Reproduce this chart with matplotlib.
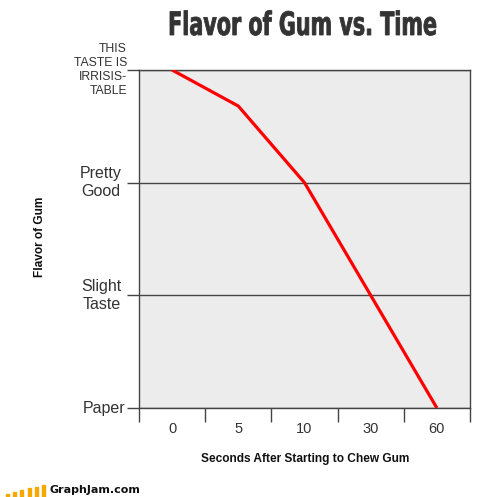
import numpy as np
import matplotlib
matplotlib.use('Agg')
import matplotlib.pyplot as plt
from matplotlib.patches import Rectangle, PathPatch
from matplotlib.textpath import TextPath
from matplotlib.font_manager import FontProperties
from matplotlib.transforms import Affine2D

plt.rcParams['font.family'] = ['Liberation Sans', 'DejaVu Sans']

# data
seconds = ['0', '5', '10', '30', '60']
flavor = [3.0, 2.68, 2.0, 1.0, 0.0]
flavor_levels = [0, 1, 2, 3]
flavor_labels = ['Paper', 'Slight\nTaste', 'Pretty\nGood', 'THIS\nTASTE IS\nIRRISIS-\nTABLE']
title = 'Flavor of Gum vs. Time'

W, H = 504, 497
fig = plt.figure(figsize=(W / 100, H / 100), dpi=100)
fig.patch.set_facecolor('white')

# axes box in pixel coords
x0, x1, y0, y1 = 139, 470, 70, 408
ax = fig.add_axes([x0 / W, 1 - y1 / H, (x1 - x0) / W, (y1 - y0) / H])
ax.set_facecolor('#ececec')

xs = np.arange(len(seconds))
ax.plot(xs, flavor, color='#ff0000', lw=2.3, solid_capstyle='butt', zorder=3)

ax.set_xlim(-0.5, len(seconds) - 0.5)
ax.set_ylim(0, 3)

# horizontal grid lines
for lv in flavor_levels:
    ax.axhline(lv, color='#444444', lw=1.0, zorder=2)

for s in ax.spines.values():
    s.set_color('#444444')
    s.set_linewidth(1.0)

# x ticks: marks at the boundaries, labels at centres
ax.set_xticks(np.arange(-0.5, len(seconds)), minor=False)
ax.set_xticklabels([])
ax.set_xticks(xs, minor=True)
ax.set_xticklabels(seconds, minor=True, fontsize=10.5, color='#333333')
ax.tick_params(axis='x', which='major', length=10, width=1.0, color='#444444', direction='out')
ax.tick_params(axis='x', which='minor', length=0, pad=10)

ax.set_yticks(flavor_levels)
ax.set_yticklabels([])
ax.tick_params(axis='y', length=9, width=1.0, color='#444444', direction='out')
# y labels drawn as text so sizes can differ
label_x = {0: -0.71, 1: -0.76, 2: -0.76, 3: -0.68}
for lv, lab in zip(flavor_levels, flavor_labels):
    if lv == 3:
        ax.text(label_x[lv], lv, lab, fontsize=8.8, color='#333333', ha='right', va='center',
                multialignment='right', linespacing=1.25)
    else:
        ax.text(label_x[lv], lv, lab, fontsize=11.5, color='#333333', ha='right', va='center',
                multialignment='center', linespacing=1.3)

fig.text(40 / W, 1 - 237 / H, 'Flavor of Gum', rotation=90, fontsize=8.6,
         fontweight='bold', color='#111111', ha='center', va='center')
fig.text(305 / W, 1 - 459 / H, 'Seconds After Starting to Chew Gum', fontsize=8.6,
         fontweight='bold', color='#111111', ha='center', va='center')

# condensed heavy title: squeeze a bold text path sideways
tp = TextPath((0, 0), title, size=33, prop=FontProperties(family='DejaVu Sans', weight='bold'))
ext = tp.get_extents()
sx = 266 / ext.width
sy = 24.5 / ext.y1
tr = (Affine2D().translate(-ext.x0, 0).scale(sx, sy)
      .translate(170, H - 35).scale(1 / W, 1 / H) + fig.transFigure)
fig.patches.append(PathPatch(tp, transform=tr, facecolor='#333333',
                             edgecolor='#333333', lw=0.6))

# GraphJam watermark
bar_h = [3, 5, 7, 9, 10, 12]
for i, h in enumerate(bar_h):
    fig.patches.append(Rectangle(((6 + i * 7.2) / W, 0), 3 / W, h / H,
                                 transform=fig.transFigure, color='#f5a800', zorder=5))
fig.text(49 / W, 1 - 490 / H, 'GraphJam.com', family='DejaVu Sans', fontsize=8,
         fontweight='bold', color='#111111', ha='left', va='center')

fig.savefig('out.png', dpi=100)
